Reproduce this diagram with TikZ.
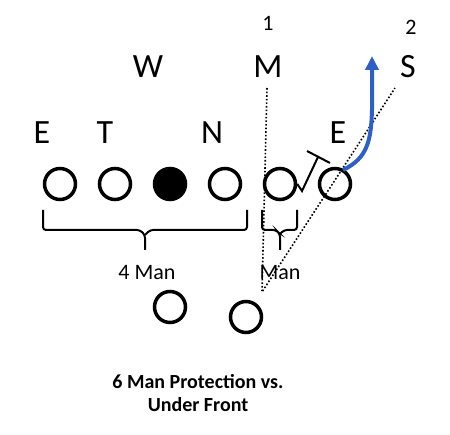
\documentclass[tikz,border=0pt]{standalone}
\usepackage{fontspec}
\setmainfont{Carlito}
\usetikzlibrary{arrows.meta}
\usetikzlibrary{positioning}
\definecolor{runblue}{RGB}{45,95,200}

\begin{document}
\begin{tikzpicture}
[x=1pt,y=-1pt,every node/.style={inner sep=0pt},
 man/.style={circle,draw,line width=3.5pt,minimum size=31pt},
 lbl/.style={font=\fontsize{34}{34}\selectfont},
 num/.style={font=\fontsize{22}{22}\selectfont},
 lane/.style={dotted,line width=1.6pt},
 brc/.style={line width=2pt,rounded corners=3pt},
 run/.style={runblue,line width=4pt,-{Triangle[length=14pt,width=13pt]}}]
\useasboundingbox (0,0) rectangle (450,435);

% offensive line
\foreach \n/\x in {lt/60,lg/115,rg/225,rt/280,te/335}
\node[man] (\n) at (\x,184) {};
\node[man,fill=black] (c) at (170,184) {};
% backs
\node[man] (fb) at (170,307) {};
\node[man] (hb) at (246,317) {};

% defense
\foreach \n/\t/\x/\y in {de1/E/42/133,dt/T/105/133,ng/N/212/133,de2/E/338/133,w/W/148/67,m/M/268/67,s/S/408/67}
\node[lbl] (\n) at (\x,\y) {\t};
\node[num] (one) at (268,23) {1};
\node[num] (two) at (411,27) {2};

% lanes
\coordinate (mtop) at (267,88);
\coordinate (stop) at (395,88);
\coordinate (apex) at (262,292);
\draw[lane] (mtop) -- (apex) -- (stop);

% end release
\draw[run] (343,170) .. controls (368,158) and (371,140) .. (372,110) -- (372,56);

% block
\coordinate (blk) at (318,157);
\draw[line width=2pt] (rt.east) -- (302,191) -- (blk);
\draw[line width=2pt] (307,151) -- (330,163);

% braces
\draw[brc] (43,210) -- (43,230) -- (140,230) -- (145,235) -- (145,250);
\draw[brc] (145,235) -- (150,230) -- (247,230) -- (247,210);
\draw[brc] (262,210) -- (262,230) -- (276,230) -- (280,234) -- (280,250);
\draw[brc] (280,234) -- (284,230) -- (297,230) -- (297,210);
\node[num] (four) at (147,273) {4 Man};
\node[num] (man) at (280,273) {Man};

\node[font=\bfseries\fontsize{20}{23}\selectfont,align=center] (title) at (198,393) {6 Man Protection vs.\\Under Front};

\end{tikzpicture}
\end{document}
